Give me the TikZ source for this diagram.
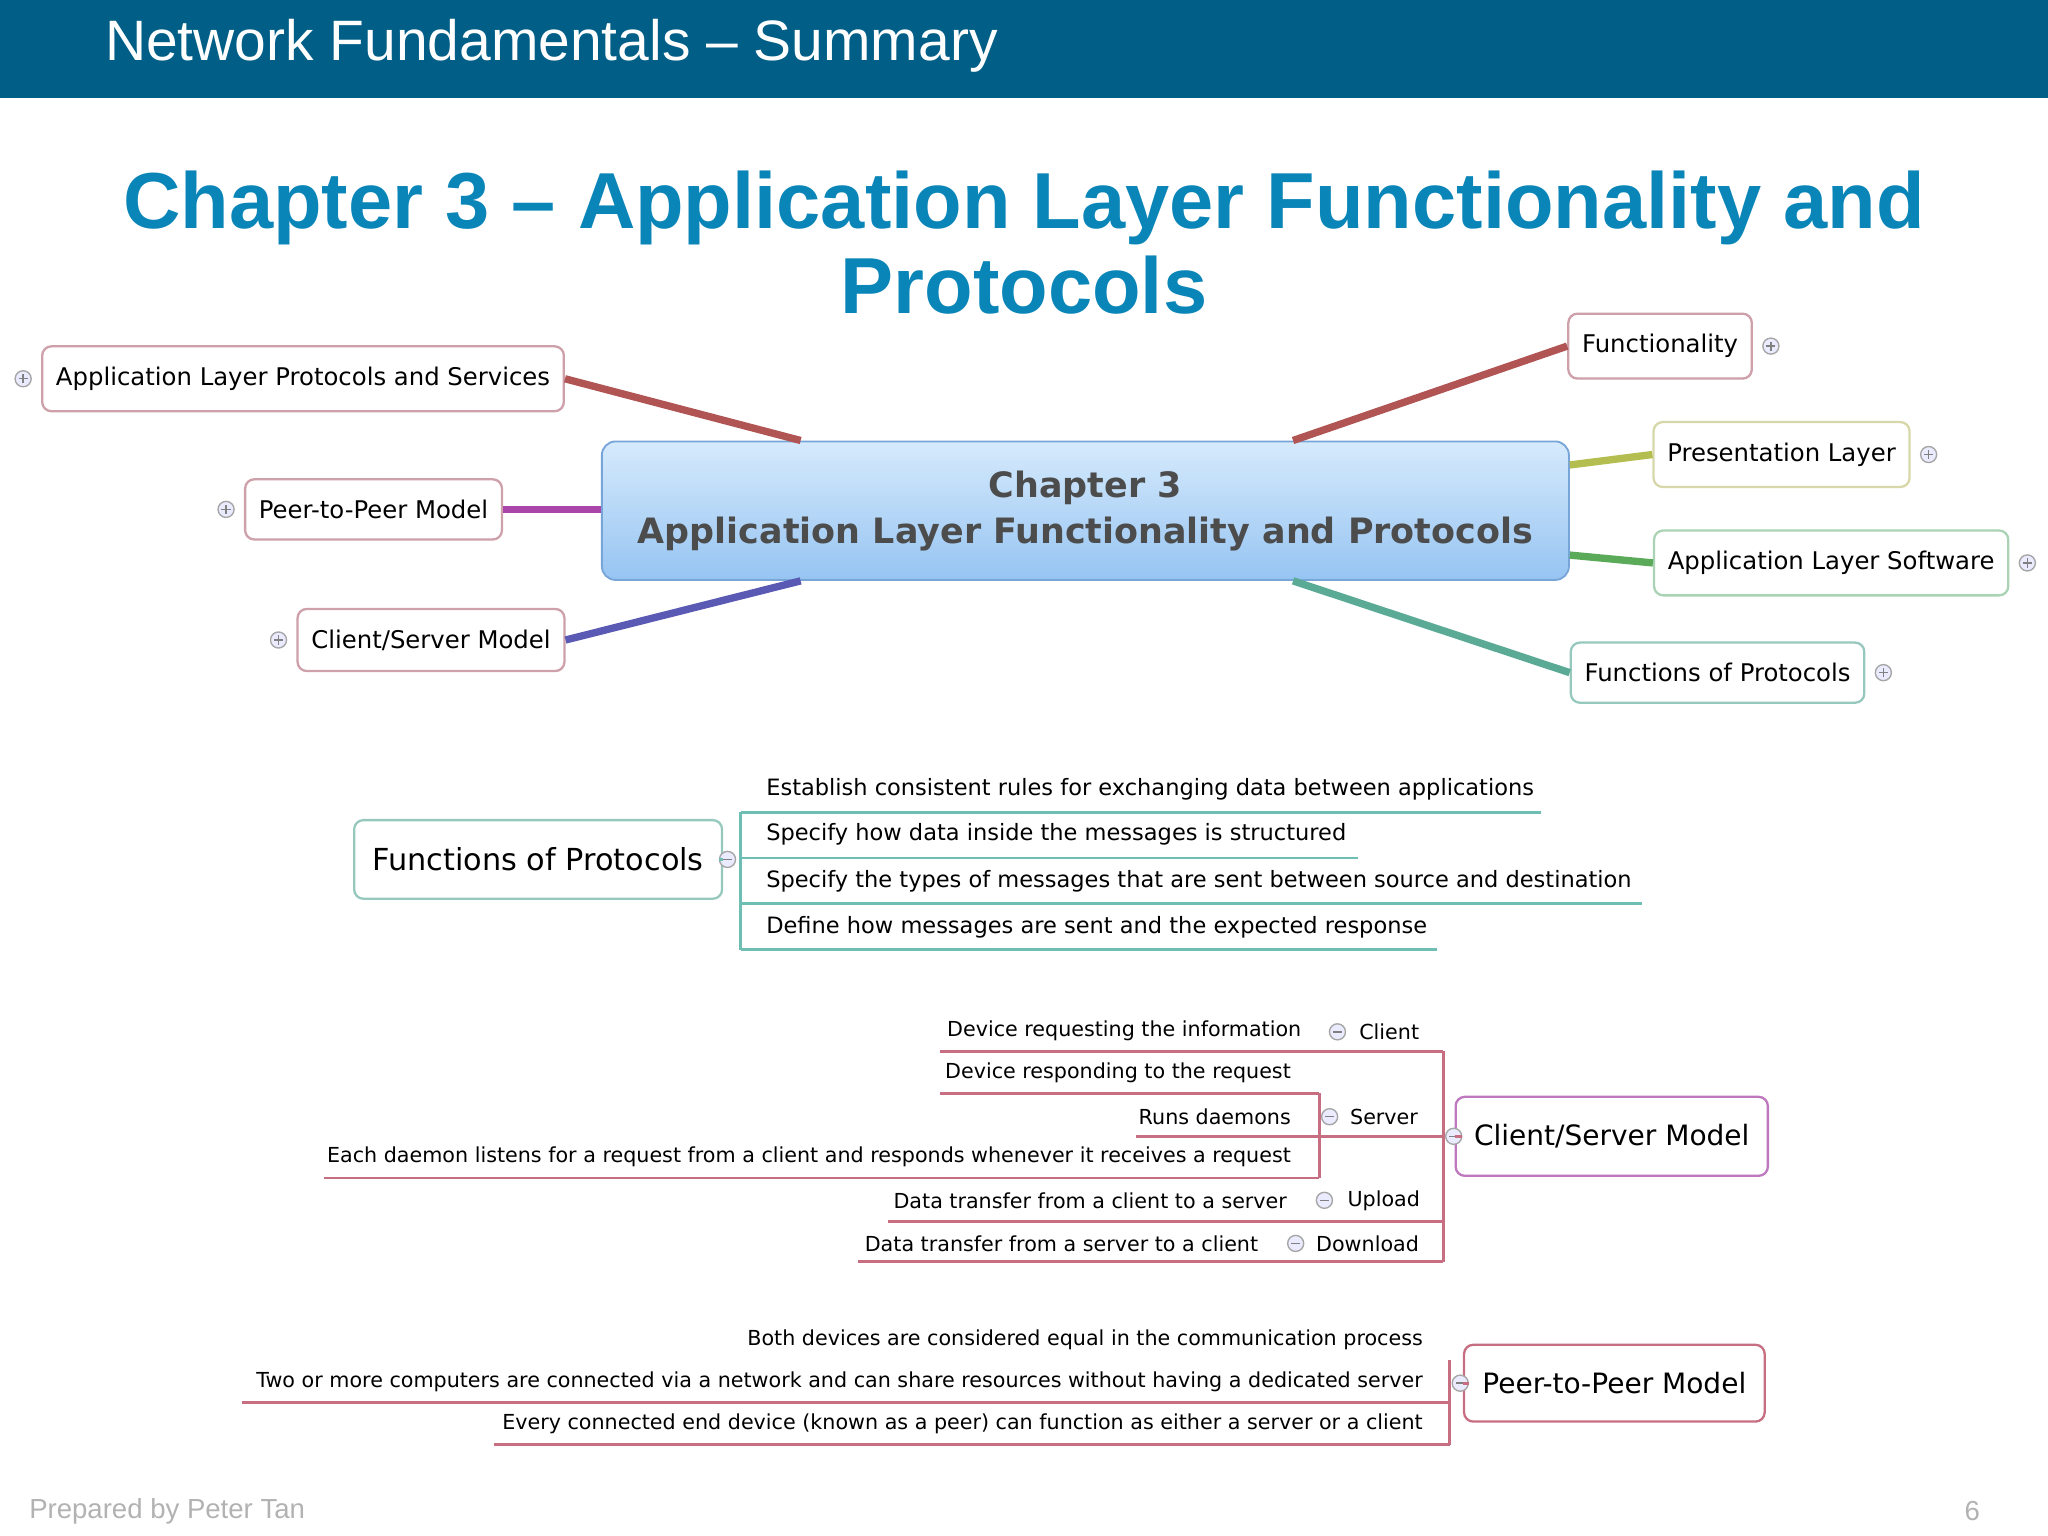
\documentclass[tikz,border=0pt]{standalone}
\usepackage{fontspec}
\setmainfont{DejaVu Sans}
\newfontfamily\headfont{Liberation Sans}
\usetikzlibrary{positioning}
\definecolor{barblue}{RGB}{0,94,135}
\definecolor{titleblue}{RGB}{10,133,184}
\definecolor{brred}{RGB}{176,84,84}
\definecolor{brpurple}{RGB}{170,70,170}
\definecolor{brblue}{RGB}{90,90,180}
\definecolor{bryellow}{RGB}{180,190,80}
\definecolor{brgreen}{RGB}{90,170,90}
\definecolor{brteal}{RGB}{90,170,150}
\definecolor{boxred}{RGB}{205,160,170}
\definecolor{boxteal}{RGB}{150,200,190}
\definecolor{boxyellow}{RGB}{215,215,170}
\definecolor{boxgreen}{RGB}{170,210,180}
\definecolor{lnred}{RGB}{200,110,130}
\definecolor{lnteal}{RGB}{110,190,180}
\definecolor{lnpurple}{RGB}{190,120,190}
\definecolor{ctop}{RGB}{214,234,252}
\definecolor{cbot}{RGB}{150,196,242}
\definecolor{cborder}{RGB}{120,165,215}
\tikzset{
  branch/.style={draw=#1, rounded corners=2pt, line width=0.5pt, inner xsep=3pt, inner ysep=4.5pt, font=\fontsize{5.3}{6}\selectfont},
  topic/.style={draw=#1, rounded corners=2pt, line width=0.5pt, inner xsep=4pt, inner ysep=6pt, font=\fontsize{6.6}{7}\selectfont},
  item/.style={inner sep=0pt, font=\fontsize{4.5}{5}\selectfont},
  fitem/.style={inner sep=0pt, font=\fontsize{4.9}{5.5}\selectfont},
  expand/.style={circle, draw=gray!70, fill=blue!8, minimum size=3.5pt, inner sep=0pt, line width=0.3pt,
    path picture={\draw[gray, line width=0.3pt] ([xshift=-1pt]path picture bounding box.center) -- ([xshift=1pt]path picture bounding box.center);}},
  expandp/.style={expand, path picture={\draw[gray, line width=0.3pt] ([xshift=-1pt]path picture bounding box.center) -- ([xshift=1pt]path picture bounding box.center) ([yshift=-1pt]path picture bounding box.center) -- ([yshift=1pt]path picture bounding box.center);}},
}
\begin{document}
\begin{tikzpicture}[x=0.01cm, y=-0.01cm]

   \useasboundingbox (0,0) rectangle (1568,1176);
   \fill [barblue] (0,0) rectangle (1568,75);
   \node (Header) at (68,35) [anchor=west, text=white, font=\headfont\fontsize{12.4}{14}\selectfont] {Network Fundamentals – Summary};
   \node (Title) at (784,186) [text=titleblue, align=center, font=\headfont\bfseries\fontsize{17.3}{18.5}\selectfont] {Chapter 3 – Application Layer Functionality and\\Protocols};

   % central topic
   \node (Chapter) at (831,391) [draw=cborder, rounded corners=3pt, top color=ctop, bottom color=cbot, minimum width=7.4cm, minimum height=1.06cm, align=center, text=black!70, font=\bfseries\fontsize{7.6}{10}\selectfont] {Chapter 3\\Application Layer Functionality and Protocols};

   \node (AppProt) at (232,290) [branch=boxred] {Application Layer Protocols and Services};
   \node (PeerB) at (286,390) [branch=boxred] {Peer-to-Peer Model};
   \node (ClientB) at (330,490) [branch=boxred] {Client/Server Model};
   \node (Functy) at (1271,265) [branch=boxred] {Functionality};
   \node (PresL) at (1364,348) [branch=boxyellow] {Presentation Layer};
   \node (AppSw) at (1402,431) [branch=boxgreen] {Application Layer Software};
   \node (FuncB) at (1315,515) [branch=boxteal] {Functions of Protocols};

   \node (eAppProt) [expandp, left=2pt of AppProt] {};
   \node (ePeerB) [expandp, left=2pt of PeerB] {};
   \node (eClientB) [expandp, left=2pt of ClientB] {};
   \node (eFuncty) [expandp, right=2pt of Functy] {};
   \node (ePresL) [expandp, right=2pt of PresL] {};
   \node (eAppSw) [expandp, right=2pt of AppSw] {};
   \node (eFuncB) [expandp, right=2pt of FuncB] {};

   \draw [brred, line width=1.6pt] (AppProt.east) -- (Chapter.north west -| 613,0);
   \draw [brpurple, line width=1.6pt] (PeerB.east) -- (Chapter.west |- PeerB.east);
   \draw [brblue, line width=1.6pt] (ClientB.east) -- (Chapter.south west -| 613,0);
   \draw [brred, line width=1.6pt] (Chapter.north east -| 990,0) -- (Functy.west);
   \draw [bryellow, line width=1.6pt] (Chapter.east |- 0,356) -- (PresL.west);
   \draw [brgreen, line width=1.6pt] (Chapter.east |- 0,425) -- (AppSw.west);
   \draw [brteal, line width=1.6pt] (Chapter.south east -| 990,0) -- (FuncB.west);

   % functions of protocols
   \node (Funcs) at (412,658) [topic=boxteal] {Functions of Protocols};
   \node (eFuncs) at (557,658) [expand] {};
   \node (F1) at (586,604) [fitem, anchor=west] {Establish consistent rules for exchanging data between applications};
   \node (F2) at (586,639) [fitem, anchor=west] {Specify how data inside the messages is structured};
   \node (F3) at (586,675) [fitem, anchor=west] {Specify the types of messages that are sent between source and destination};
   \node (F4) at (586,710) [fitem, anchor=west] {Define how messages are sent and the expected response};
   \draw [lnteal, line width=0.6pt] (Funcs.east) -- (eFuncs.west);
   \draw [lnteal, line width=0.6pt] (567,622) -- (567,727);
   \draw [lnteal, line width=0.6pt] (567,622) -- (1180,622);
   \draw [lnteal, line width=0.6pt] (567,657) -- (1040,657);
   \draw [lnteal, line width=0.6pt] (567,692) -- (1257,692);
   \draw [lnteal, line width=0.6pt] (567,727) -- (1100,727);

   % client/server model
   \node (CS) at (1234,870) [topic=lnpurple, font=\fontsize{6.1}{7}\selectfont] {Client/Server Model};
   \node (eCS) at (1113,870) [expand] {};
   \node (Client) at (1040,790) [item, anchor=west] {Client};
   \node (eClient) at (1024,790) [expand] {};
   \node (Server) at (1033,855) [item, anchor=west] {Server};
   \node (eServer) at (1018,855) [expand] {};
   \node (Upload) at (1031,919) [item, anchor=west] {Upload};
   \node (eUpload) at (1014,919) [expand] {};
   \node (Download) at (1007,952) [item, anchor=west] {Download};
   \node (eDownload) at (992,952) [expand] {};
   \node (C1) at (997,789) [item, anchor=east] {Device requesting the information};
   \node (S1) at (989,821) [item, anchor=east] {Device responding to the request};
   \node (S2) at (989,855) [item, anchor=east] {Runs daemons};
   \node (S3) at (989,886) [item, anchor=east] {Each daemon listens for a request from a client and responds whenever it receives a request};
   \node (U1) at (986,919) [item, anchor=east] {Data transfer from a client to a server};
   \node (D1) at (964,952) [item, anchor=east] {Data transfer from a server to a client};
   \draw [lnred, line width=0.6pt] (CS.west) -- (eCS.east);
   \draw [lnred, line width=0.6pt] (1105,805) -- (1105,966);
   \draw [lnred, line width=0.6pt] (720,805) -- (1105,805);
   \draw [lnred, line width=0.6pt] (1010,870) -- (1105,870);
   \draw [lnred, line width=0.6pt] (1010,837) -- (1010,902);
   \draw [lnred, line width=0.6pt] (720,837) -- (1010,837);
   \draw [lnred, line width=0.6pt] (870,870) -- (1010,870);
   \draw [lnred, line width=0.6pt] (248,902) -- (1010,902);
   \draw [lnred, line width=0.6pt] (680,935) -- (1105,935);
   \draw [lnred, line width=0.6pt] (657,966) -- (1105,966);

   % peer-to-peer model
   \node (P2P) at (1236,1059) [topic=lnred, font=\fontsize{6.1}{7}\selectfont] {Peer-to-Peer Model};
   \node (eP2P) at (1118,1059) [expand] {};
   \node (P1) at (1090,1026) [item, anchor=east] {Both devices are considered equal in the communication process};
   \node (P2) at (1090,1058) [item, anchor=east] {Two or more computers are connected via a network and can share resources without having a dedicated server};
   \node (P3) at (1090,1090) [item, anchor=east] {Every connected end device (known as a peer) can function as either a server or a client};
   \draw [lnred, line width=0.6pt] (P2P.west) -- (eP2P.east);
   \draw [lnred, line width=0.6pt] (1110,1041) -- (1110,1106);
   \draw [lnred, line width=0.6pt] (185,1074) -- (1110,1074);
   \draw [lnred, line width=0.6pt] (378,1106) -- (1110,1106);

   \node (Footer) at (10,1157) [anchor=west, text=gray!60, font=\headfont\fontsize{6}{7}\selectfont] {Prepared by Peter Tan};
   \node (Page) at (1510,1157) [text=gray!60, font=\headfont\fontsize{6}{7}\selectfont] {6};

\end{tikzpicture}
\end{document}
